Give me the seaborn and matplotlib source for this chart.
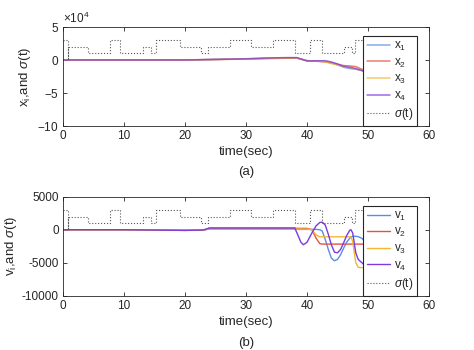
import matplotlib
matplotlib.use("Agg")
import matplotlib.pyplot as plt
import seaborn as sns
import numpy as np

# --- data ---
# switching signal sigma(t): switch times and levels (steps-post)
sw_t = [0, 0.8, 0.8, 4.1, 7.7, 9.4, 13.1, 14.5, 15.3, 19.1, 22.7, 23.8,
        27.4, 30.9, 34.5, 38.0, 40.5, 42.4, 46.0, 47.3, 47.9, 50]
sw_lvl = [3, 0, 2, 1, 3, 1, 2, 1, 3, 2, 1, 2,
          3, 2, 3, 1, 3, 1, 2, 1, 3, 3]

# positions x_i (top panel)
t_x = [0, 10, 20, 29, 33, 36, 38.3, 40, 42, 43, 44, 45, 46, 47, 48, 49, 50]
x1 = [0, 0, 0, 1500, 2500, 3000, 3200, -1000, -2000, -2500, -4500, -7500,
      -11000, -13000, -14000, -16000, -19000]
x2 = [0, 0, 0, 1200, 2000, 2500, 2800, -1200, -2200, -2800, -4500, -6500,
      -8500, -9000, -10000, -14000, -19000]
x3 = [0, 0, 0, 1300, 2200, 2800, 3000, -1000, -2000, -3000, -5500, -7500,
      -10000, -11500, -13500, -16000, -19000]
x4 = [0, 0, 0, 1500, 2800, 3500, 3600, -1500, -1200, -1000, -3000, -6000,
      -9500, -11000, -13000, -16000, -19000]

# velocities v_i (bottom panel)
t_v = [0, 10, 20, 23, 24, 30, 38, 38.5, 39, 39.4, 40, 40.8, 41.5, 42.1, 42.5,
       43, 43.5, 44, 44.5, 45, 45.5, 46, 46.5, 47, 47.2, 47.5, 48, 48.4, 49,
       49.5, 50]
v1 = [0, 0, -100, -50, 100, 100, 100, 50, 50, 50, 50, 50, 50, 0, -200,
      -1500, -3000, -4300, -4700, -4500, -3800, -2800, -1900, -1300, -1100,
      -1000, -1000, -1050, -1300, -1800, -2200]
v2 = [0, 0, -100, -50, 250, 250, 250, 200, 200, 200, 200, 0, -1300, -2100,
      -2180, -2180, -2180, -2180, -2180, -2180, -2180, -2180, -2180, -2180,
      -2180, -2180, -2180, -2180, -2180, -2180, -2180]
v3 = [0, 0, -100, -50, 150, 150, 150, 100, 100, 100, 100, 0, -800, -1070,
      -1070, -1070, -1070, -1070, -1070, -1070, -1070, -1070, -1070, -1070,
      -1070, -1800, -5000, -5700, -5750, -5750, -5750]
v4 = [0, 0, -100, -50, 250, 250, 250, -800, -1900, -2280, -1900, -500, 600,
      1100, 1150, 700, -700, -2300, -3400, -3500, -3000, -2000, -900, -100,
      0, -500, -3500, -4500, -5000, -5400, -5850]

colors = ["#5a8ee6", "#e5533f", "#f2b834", "#7c3ae0"]

sns.set_theme(style="white")
plt.rcParams["font.family"] = ["Liberation Sans", "DejaVu Sans"]
plt.rcParams["mathtext.fontset"] = "custom"
plt.rcParams["mathtext.rm"] = "Liberation Sans"
plt.rcParams["mathtext.it"] = "Liberation Sans:italic"
plt.rcParams["axes.unicode_minus"] = False

fig = plt.figure(figsize=(4.74, 3.5), dpi=100)
ax1 = fig.add_axes([0.133, 0.64, 0.772, 0.283])
ax2 = fig.add_axes([0.133, 0.155, 0.772, 0.283])


def style_axes(ax):
    for s in ax.spines.values():
        s.set_color("#262626")
        s.set_linewidth(0.6)
    ax.tick_params(direction="in", top=True, right=True, length=3,
                   width=0.6, color="#262626", labelsize=8.5, pad=3,
                   bottom=True, left=True)
    ax.set_xlim(0, 60)
    ax.set_xticks(range(0, 61, 10))


# --- top panel: x_i ---
for i, xs in enumerate([x1, x2, x3, x4]):
    sns.lineplot(x=t_x, y=xs, ax=ax1, color=colors[i], lw=1.1, alpha=0.75,
                 estimator=None, sort=False, label=f"x$_{i + 1}$")
sns.lineplot(x=sw_t, y=np.array(sw_lvl) * 1e4, ax=ax1, color="#555555",
             lw=0.8, linestyle=":", drawstyle="steps-post",
             estimator=None, sort=False, label=r"$\sigma$(t)")
ax1.set_ylim(-1e5, 5e4)
ax1.set_yticks([-1e5, -5e4, 0, 5e4])
ax1.ticklabel_format(axis="y", style="sci", scilimits=(4, 4), useMathText=True)
ax1.yaxis.get_offset_text().set_fontsize(8.5)
style_axes(ax1)
ax1.set_xlabel("time(sec)", fontsize=9.5, labelpad=3)
ax1.set_ylabel(r"x$_{\rm i}$,and $\sigma$(t)", fontsize=9.5, labelpad=3)

# --- bottom panel: v_i ---
for i, vs in enumerate([v1, v2, v3, v4]):
    sns.lineplot(x=t_v, y=vs, ax=ax2, color=colors[i], lw=1.0,
                 estimator=None, sort=False, label=f"v$_{i + 1}$")
sns.lineplot(x=sw_t, y=np.array(sw_lvl) * 1e3, ax=ax2, color="#555555",
             lw=0.8, linestyle=":", drawstyle="steps-post",
             estimator=None, sort=False, label=r"$\sigma$(t)")
ax2.set_ylim(-10000, 5000)
ax2.set_yticks([-10000, -5000, 0, 5000])
style_axes(ax2)
ax2.set_xlabel("time(sec)", fontsize=9.5, labelpad=3)
ax2.set_ylabel(r"v$_{\rm i}$,and $\sigma$(t)", fontsize=9.5, labelpad=2)

for ax in (ax1, ax2):
    leg = ax.legend(loc="lower right", bbox_to_anchor=(0.967, 0.0),
                    borderaxespad=0, fontsize=8.5, handlelength=2.0,
                    labelspacing=0.3, handletextpad=0.3, borderpad=0.3,
                    fancybox=False, framealpha=1)
    leg.get_frame().set_edgecolor("#262626")
    leg.get_frame().set_linewidth(0.8)

fig.text(0.52, 1 - 172 / 350, "(a)", ha="center", va="center", fontsize=9.5)
fig.text(0.52, 1 - 343 / 350, "(b)", ha="center", va="center", fontsize=9.5)

fig.savefig("out.png", dpi=100, facecolor="white")
